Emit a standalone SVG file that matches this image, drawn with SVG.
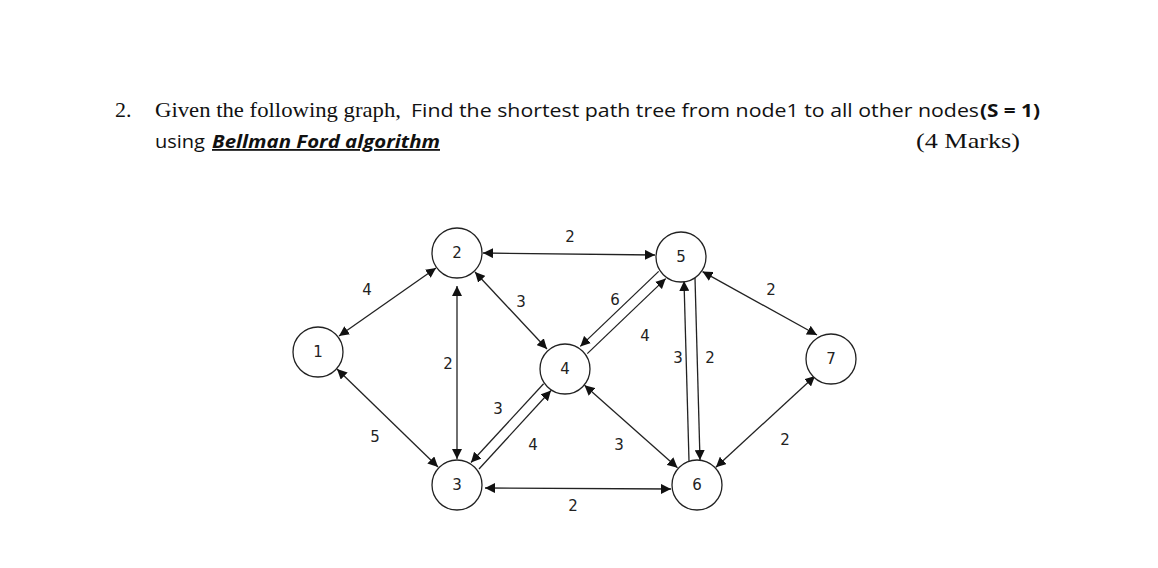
<svg xmlns="http://www.w3.org/2000/svg" width="1158" height="568" viewBox="0 0 1158 568">
<style>
.n circle{fill:#fff;stroke:#222;stroke-width:1.3}
.n text,.w{font-family:"DejaVu Sans",sans-serif;font-size:15px;fill:#222;text-anchor:middle}
.e line{stroke:#222;stroke-width:1.3}
.b{marker-start:url(#a);marker-end:url(#a)}
.o{marker-end:url(#a)}
.t{font-family:"Liberation Serif",serif;font-size:22px;fill:#111}
.s{font-family:"Open Sans",sans-serif;font-size:18px;fill:#111}
</style>
<defs><marker id="a" viewBox="0 0 10 10" refX="10" refY="5" markerWidth="10" markerHeight="10" markerUnits="userSpaceOnUse" orient="auto-start-reverse"><path d="M0,0L10,5L0,10z" fill="#111"/></marker></defs>
<rect width="1158" height="568" fill="#fff"/>
<text class="t" x="115" y="117">2.</text>
<text class="t" x="155" y="117" textLength="246" lengthAdjust="spacingAndGlyphs">Given the following graph,</text>
<text class="s" x="411" y="117" textLength="568" lengthAdjust="spacingAndGlyphs">Find the shortest path tree from node1 to all other nodes</text>
<text class="s" x="980" y="117" font-weight="bold" textLength="60" lengthAdjust="spacingAndGlyphs">(S = 1)</text>
<text class="s" x="155" y="148" textLength="50" lengthAdjust="spacingAndGlyphs">using</text>
<text class="s" x="212" y="148" font-weight="bold" font-style="italic" text-decoration="underline" textLength="228" lengthAdjust="spacingAndGlyphs">Bellman Ford algorithm</text>
<text class="t" x="916" y="148" textLength="104" lengthAdjust="spacingAndGlyphs">(4 Marks)</text>
<g class="e" id="edges">
<line class="b" x1="339" y1="336" x2="436" y2="268"/>
<line class="b" x1="337" y1="369" x2="438" y2="467"/>
<line class="b" x1="457" y1="286" x2="457" y2="459"/>
<line class="b" x1="475" y1="272" x2="547" y2="349"/>
<line class="o" x1="543.6" y1="383.7" x2="471" y2="462.5"/>
<line class="o" x1="479" y1="469" x2="551" y2="390.5"/>
<line class="b" x1="483" y1="253" x2="655" y2="255"/>
<line class="b" x1="485" y1="488" x2="671" y2="489"/>
<line class="o" x1="658.7" y1="271.4" x2="580.3" y2="346.4"/>
<line class="o" x1="587.3" y1="353.6" x2="665.7" y2="278.6"/>
<line class="o" x1="689" y1="461" x2="684" y2="281"/>
<line class="o" x1="695" y1="278" x2="700" y2="460"/>
<line class="b" x1="584.5" y1="385.3" x2="677.5" y2="467.7"/>
<line class="b" x1="702.5" y1="271.6" x2="817" y2="335"/>
<line class="b" x1="715.9" y1="467.2" x2="815" y2="376"/>
</g>
<g id="labels">
<text class="w" x="367" y="295">4</text>
<text class="w" x="375" y="442">5</text>
<text class="w" x="448" y="369">2</text>
<text class="w" x="521" y="307">3</text>
<text class="w" x="498" y="414">3</text>
<text class="w" x="533" y="450">4</text>
<text class="w" x="570" y="242">2</text>
<text class="w" x="573" y="511">2</text>
<text class="w" x="615" y="305">6</text>
<text class="w" x="645" y="341">4</text>
<text class="w" x="678" y="363">3</text>
<text class="w" x="710" y="363">2</text>
<text class="w" x="619" y="450">3</text>
<text class="w" x="771" y="295">2</text>
<text class="w" x="785" y="445">2</text>
</g>
<g class="n" id="n1"><circle cx="318" cy="352" r="25"/><text x="318" y="357">1</text></g>
<g class="n" id="n2"><circle cx="457" cy="253" r="25"/><text x="457" y="258">2</text></g>
<g class="n" id="n3"><circle cx="457" cy="485" r="25"/><text x="457" y="490">3</text></g>
<g class="n" id="n4"><circle cx="565" cy="369" r="25"/><text x="565" y="374">4</text></g>
<g class="n" id="n5"><circle cx="681" cy="257" r="25"/><text x="681" y="262">5</text></g>
<g class="n" id="n6"><circle cx="697" cy="485" r="25"/><text x="697" y="490">6</text></g>
<g class="n" id="n7"><circle cx="831" cy="359" r="25"/><text x="831" y="364">7</text></g>
</svg>
